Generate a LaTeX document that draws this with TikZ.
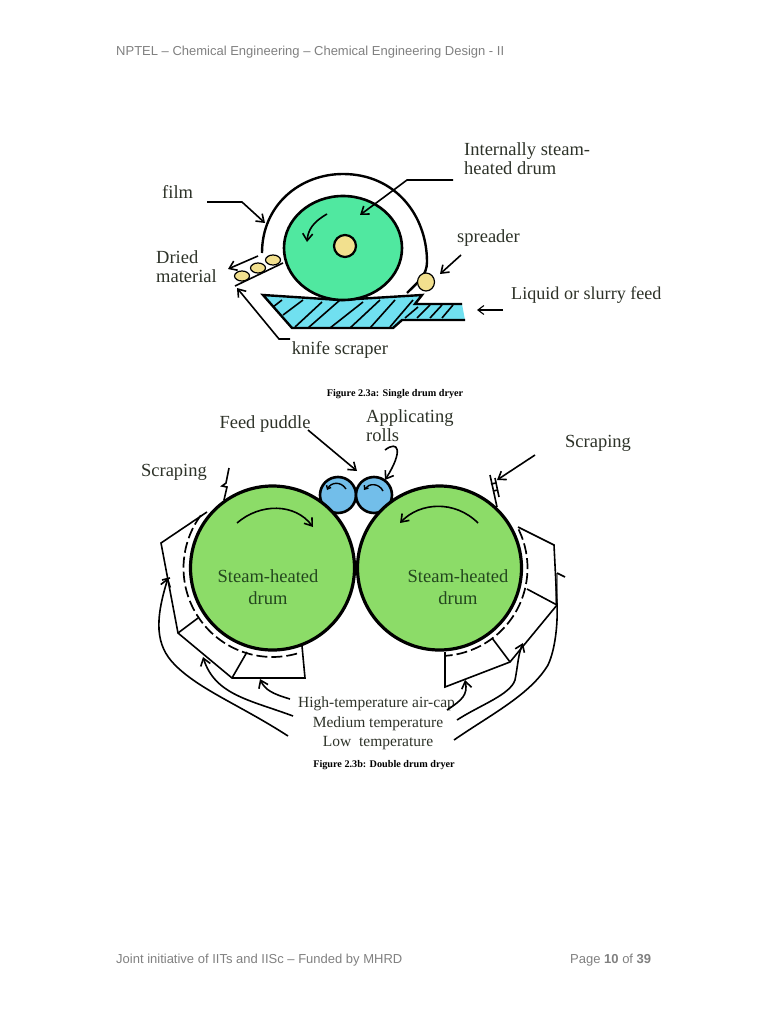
\documentclass[tikz,border=0pt]{standalone}
\usepackage{fontspec}
\setmainfont{Liberation Serif}
\setsansfont{Liberation Sans}
\usepackage{tikz}
\usetikzlibrary{arrows.meta,positioning,shapes.geometric}
\definecolor{dr-mint}{RGB}{80,232,160}
\definecolor{dr-green}{RGB}{140,220,104}
\definecolor{dr-blue}{RGB}{114,190,234}
\definecolor{dr-cyan}{RGB}{112,224,240}
\definecolor{dr-yellow}{RGB}{242,224,142}
\definecolor{dr-grey}{RGB}{128,128,128}
\definecolor{dr-ink}{RGB}{45,50,40}
\definecolor{dr-leaf}{RGB}{35,70,30}
\tikzset{
    lbl/.style={font=\fontsize{18.5}{19}\selectfont,text=dr-ink,inner sep=0pt,align=left},
    lblsmall/.style={font=\fontsize{15.5}{16}\selectfont,text=dr-ink,inner sep=0pt},
    caption/.style={font=\fontsize{10.2}{11}\selectfont\bfseries,inner sep=0pt},
    pagetext/.style={font=\fontsize{13}{15}\sffamily\selectfont,text=dr-grey,inner sep=0pt},
    line/.style={line width=1.6pt},
    flow/.style={line width=1.6pt,-{Straight Barb[length=7pt,width=10pt]}},
    drum/.style={circle,draw,line width=3.2pt,fill=dr-green,minimum size=164pt,inner sep=0pt},
    roll/.style={circle,draw,line width=2.6pt,fill=dr-blue,minimum size=36pt,inner sep=0pt},
    drop/.style={ellipse,draw,line width=1.2pt,fill=dr-yellow,inner sep=0pt},
    capdash/.style={line width=1.7pt,dash pattern=on 11pt off 4pt}
}
\begin{document}
\begin{tikzpicture}[x=1pt,y=-1pt]
    \useasboundingbox (0,0) rectangle (768,1024);
    \node[pagetext,anchor=west] (head) at (116,52) {NPTEL -- Chemical Engineering -- Chemical Engineering Design - II};
    \node[pagetext,anchor=west] (foot) at (116,960) {Joint initiative of IITs and IISc -- Funded by MHRD};
    \node[pagetext,anchor=west] (page) at (570,960) {Page \textbf{10} of \textbf{39}};

    \draw[line width=2.4pt] (262,253) .. controls (262,205) and (300,174) .. (343,174) .. controls (395,174) and (427,215) .. (427,262) .. controls (427,275) and (418,282) .. (407,293);
    \node[drop,minimum width=17pt,minimum height=18pt] (blob) at (426,282) {};
    \coordinate (wa) at (263,295);
    \coordinate (wb) at (340,300);
    \coordinate (wc) at (422,295);
    \coordinate (wd) at (415,304);
    \coordinate (we) at (462,304);
    \coordinate (wf) at (465,320);
    \coordinate (wg) at (402,320);
    \coordinate (wh) at (393,328);
    \coordinate (wi) at (292,328);
    \fill[dr-cyan] (wa) -- (wb) -- (wc) -- (wd) -- (we) -- (wf) -- (wg) -- (wh) -- (wi) -- cycle;
    \foreach \xa/\ya/\xb/\yb in {273/307/282/300,283/315/303/300,295/327/322/302,308/328/340/300,330/328/363/302,350/328/380/300,370/328/395/300,390/327/413/300,405/318/418/307,417/318/430/305,430/318/442/305,442/318/453/305}
        \draw[line] (\xa,\ya) -- (\xb,\yb);
    \draw[line width=2.4pt] (we) -- (wd) -- (wc) -- (wb) -- (wa) -- (wi) -- (wh) -- (wg) -- (wf);
    \node[ellipse,draw,line width=2.6pt,fill=dr-mint,minimum width=118pt,minimum height=104pt,inner sep=0pt] (drumA) at (343,248) {};
    \node[circle,draw,line width=2.2pt,fill=dr-yellow,minimum size=22pt,inner sep=0pt] (hub) at (345,246) {};
    \draw[line] (283,263) -- (235,286);
    \node[drop,minimum width=15pt,minimum height=10pt] (dropa) at (273,260) {};
    \node[drop,minimum width=15pt,minimum height=10pt] (dropb) at (258,268) {};
    \node[drop,minimum width=15pt,minimum height=10pt] (dropc) at (242,276) {};
    \draw[flow] (327,214) .. controls (313,222) and (308,230) .. (307,242);

    \node[lbl,anchor=west] (filmtxt) at (162,192) {film};
    \node[lbl,anchor=north west] (driedtxt) at (156,250) {Dried\\material};
    \node[lbl,anchor=north west] (steamtxt) at (464,142) {Internally steam-\\heated drum};
    \node[lbl,anchor=west] (spreadtxt) at (457,238) {spreader};
    \node[lbl,anchor=west,font=\fontsize{18.1}{19}\selectfont] (liquidtxt) at (511,295) {Liquid or slurry feed};
    \node[lbl] (knifetxt) at (340,350) {knife scraper};
    \coordinate (filmend) at (207,202);
    \coordinate (steamend) at (453,180);
    \coordinate (spreadend) at (461,255);
    \coordinate (liquidend) at (503,310);
    \coordinate (knifeend) at (290,339);
    \coordinate (driedend) at (258,256);
    \draw[flow] (filmend) -- (242,202) -- (265,223);
    \draw[flow] (steamend) -- (407,180) -- (360,215);
    \draw[flow] (spreadend) -- (440,274);
    \draw[line width=1.1pt,-{Straight Barb[length=6pt,width=9pt]}] (liquidend) -- (477,310);
    \draw[flow] (knifeend) -- (279,339) -- (237,288);
    \draw[flow] (driedend) -- (228,269);
    \node[caption] (capa) at (395,394) {Figure 2.3a: Single drum dryer};

    \node[roll] (rollL) at (338,495) {};
    \node[roll] (rollR) at (374,495) {};
    \node[drum] (drumL) at (272.5,568) {};
    \node[drum] (drumR) at (439.5,568) {};
    \draw[line width=1.4pt,-{Straight Barb[length=3pt,width=5pt]}] (346,489) .. controls (341,481) and (331,482) .. (327,490);
    \draw[line width=1.4pt,-{Straight Barb[length=3pt,width=5pt]}] (383,491) .. controls (379,483) and (369,483) .. (364,490);
    \draw[flow] (237,523) .. controls (260,503) and (295,503) .. (313,527);
    \draw[flow] (478,523) .. controls (455,500) and (420,502) .. (400,523);
    \node[lbl,text=dr-leaf,align=center,font=\fontsize{18.5}{22}\selectfont] (texta) at (268,587) {Steam-heated\\drum};
    \node[lbl,text=dr-leaf,align=center,font=\fontsize{18.5}{22}\selectfont] (textb) at (458,587) {Steam-heated\\drum};

    \node[lbl] (puddletxt) at (265,424) {Feed puddle};
    \node[lbl,anchor=north west] (rollstxt) at (366,409) {Applicating\\rolls};
    \node[lbl] (scrapL) at (174,472) {Scraping};
    \node[lbl] (scrapR) at (598,443) {Scraping};
    \coordinate (puddlestart) at (308,430);
    \coordinate (rollstart) at (385,450);
    \coordinate (scrapstart) at (535,455);
    \draw[flow] (puddlestart) -- (357,471);
    \draw[flow] (rollstart) .. controls (398,440) and (404,450) .. (385,480);
    \draw[flow] (scrapstart) -- (497,480);

    \draw[line] (229,468) -- (226,483) -- (222,486) -- (227,487) -- (224,500);
    \draw[line] (490,475) -- (497,507);
    \draw[line] (495,478) -- (499,497);
    \draw[line] (491,484) -- (496,483);
    \draw[line] (493,491) -- (498,490);

    \draw[capdash] plot[smooth,domain=74:217,samples=30] ({272.5+89*cos(\x)},{568+89*sin(\x)});
    \draw[capdash] plot[smooth,domain=-26:86,samples=30] ({439.5+88*cos(\x)},{568+88*sin(\x)});
    \coordinate (la) at (207,512);
    \coordinate (lb) at (161,543);
    \coordinate (lc) at (178,633);
    \coordinate (ld) at (232,678);
    \coordinate (le) at (305,678);
    \coordinate (lf) at (302,646);
    \draw[line] (la) -- (lb) -- (lc) -- (ld) -- (le) -- (lf);
    \draw[line] (lc) -- (198,618);
    \draw[line] (ld) -- (247,652);
    \coordinate (ra) at (518,527);
    \coordinate (rb) at (554,545);
    \coordinate (rc) at (557,605);
    \coordinate (rd) at (510,662);
    \coordinate (re) at (445,687);
    \coordinate (rf) at (445,652);
    \fill[dr-grey] (555,573) rectangle (558,605);
    \draw[line] (ra) -- (rb) -- (rc) -- (rd) -- (re) -- (rf);
    \draw[line] (527,589) -- (rc);
    \draw[line] (492,638) -- (rd);
    \draw[line] (557,573) -- (565,577);

    \node[lblsmall] (hightxt) at (376.5,704) {High-temperature air-cap};
    \node[lblsmall] (medtxt) at (378,724) {Medium temperature};
    \node[lblsmall] (lowtxt) at (378,743) {Low\hspace{4pt} temperature};
    \draw[flow] (290,699) .. controls (273,694) and (265,690) .. (260,679);
    \draw[flow] (293,716) .. controls (250,700) and (215,695) .. (203,657);
    \draw[flow] (288,736) .. controls (240,705) and (200,690) .. (175,665) .. controls (155,645) and (155,620) .. (168,578);
    \draw[line] (162,580) -- (170,578);
    \draw[flow] (447,710) .. controls (462,700) and (468,695) .. (465,680);
    \draw[flow] (457,720) .. controls (480,705) and (510,695) .. (515,680) .. controls (518,665) and (518,655) .. (523,643);
    \draw[line] (454,740) .. controls (490,715) and (530,695) .. (548,665) .. controls (555,650) and (558,625) .. (557,603);
    \node[caption] (capb) at (384,765) {Figure 2.3b: Double drum dryer};
\end{tikzpicture}
\end{document}
